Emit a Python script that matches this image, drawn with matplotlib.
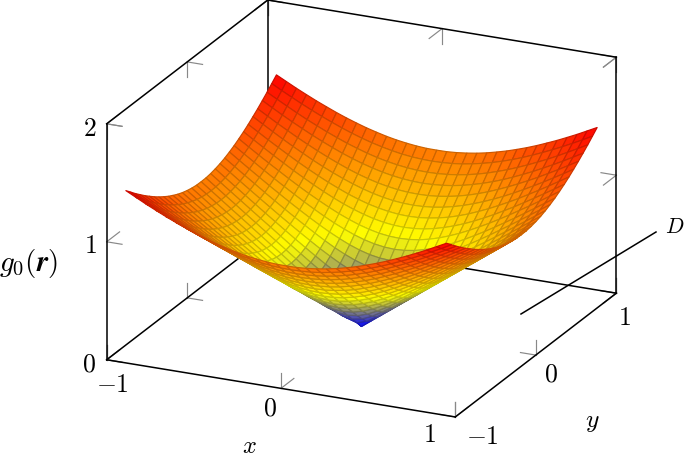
import numpy as np
import matplotlib
matplotlib.use("Agg")
import matplotlib.pyplot as plt
from matplotlib.colors import LinearSegmentedColormap
from matplotlib.lines import Line2D

plt.rcParams["mathtext.fontset"] = "cm"

# ── Data ──────────────────────────────────────────────────────
x_ticks = [-1, 0, 1]
y_ticks = [-1, 0, 1]
z_ticks = [0, 1, 2]

# g0 on one quadrant of the sampled grid, upper triangle (row i, columns i..16)
g_rows = [
    [0.000, 0.063, 0.125, 0.188, 0.251, 0.314, 0.376, 0.439, 0.502, 0.564, 0.627, 0.690, 0.753, 0.815, 0.878, 0.941, 1.004],
    [0.089, 0.140, 0.198, 0.259, 0.320, 0.382, 0.444, 0.506, 0.568, 0.630, 0.693, 0.755, 0.818, 0.880, 0.943, 1.005],
    [0.177, 0.226, 0.280, 0.338, 0.397, 0.457, 0.517, 0.578, 0.640, 0.701, 0.763, 0.825, 0.887, 0.949, 1.011],
    [0.266, 0.314, 0.366, 0.421, 0.478, 0.536, 0.595, 0.655, 0.715, 0.776, 0.837, 0.898, 0.959, 1.021],
    [0.355, 0.402, 0.452, 0.506, 0.561, 0.618, 0.675, 0.734, 0.793, 0.853, 0.913, 0.974, 1.034],
    [0.443, 0.490, 0.540, 0.592, 0.646, 0.701, 0.758, 0.815, 0.874, 0.932, 0.992, 1.051],
    [0.532, 0.578, 0.627, 0.678, 0.731, 0.786, 0.841, 0.898, 0.955, 1.013, 1.072],
    [0.621, 0.667, 0.715, 0.766, 0.818, 0.871, 0.926, 0.982, 1.038, 1.095],
    [0.710, 0.755, 0.803, 0.853, 0.905, 0.957, 1.011, 1.066, 1.122],
    [0.798, 0.844, 0.891, 0.941, 0.992, 1.044, 1.097, 1.151],
    [0.887, 0.932, 0.980, 1.029, 1.079, 1.131, 1.183],
    [0.976, 1.021, 1.068, 1.117, 1.167, 1.218],
    [1.064, 1.110, 1.156, 1.205, 1.254],
    [1.153, 1.198, 1.245, 1.293],
    [1.242, 1.287, 1.333],
    [1.330, 1.376],
    [1.419],
]

# ── Build the full grid from the quadrant ─────────────────────
n = len(g_rows)
quadrant = np.zeros((n, n))
for i, row in enumerate(g_rows):
    quadrant[i, i:] = row
    quadrant[i:, i] = row
Z = np.vstack([quadrant[:0:-1], quadrant])
Z = np.hstack([Z[:, :0:-1], Z])

X, Y = np.meshgrid(np.linspace(-0.92, 0.92, 2 * n - 1), np.linspace(-0.935, 0.935, 2 * n - 1))

# ── Colours per cell ──────────────────────────────────────────
cmap = LinearSegmentedColormap.from_list(
    "hot2", [(0, "#0000ff"), (0.36, "#ffff00"), (0.68, "#ff8000"), (1, "#ff0000")])
cell = (Z[:-1, :-1] + Z[1:, :-1] + Z[:-1, 1:] + Z[1:, 1:]) / 4
face = cmap(cell / Z.max())
edge = face.copy()
edge[..., :3] *= 0.8

# ── Figure ────────────────────────────────────────────────────
W, H = 685, 459
fig = plt.figure(figsize=(W / 100, H / 100), dpi=100)
ax = fig.add_axes([-49.3 / W, -160.3 / H, 800 / W, 800 / H], projection="3d", proj_type="ortho")
ax.computed_zorder = False
ax.set_axis_off()
ax.view_init(elev=20.8, azim=-65.2)
ax.set_xlim(-1, 1, view_margin=0)
ax.set_ylim(-1, 1, view_margin=0)
ax.set_zlim(0, 2, view_margin=0)
ax.set_box_aspect((384, 384, 252.4), zoom=0.7267)

# box edges
box_color = "black"
box_lw = 1.1
for a, b in [
    ((-1, -1, 0), (1, -1, 0)), ((1, -1, 0), (1, 1, 0)), ((-1, -1, 0), (-1, 1, 0)),
    ((-1, 1, 0), (1, 1, 0)), ((-1, -1, 0), (-1, -1, 2)), ((-1, 1, 0), (-1, 1, 2)),
    ((1, 1, 0), (1, 1, 2)), ((-1, -1, 2), (-1, 1, 2)), ((-1, 1, 2), (1, 1, 2)),
]:
    ax.plot(*zip(a, b), color=box_color, lw=box_lw, zorder=2, solid_capstyle="projecting")

# tick marks: two short strokes from the edge into the box
tick_color = "#888888"
dx, dy, dz = 0.088, 0.16, 0.127


def tick(p, d1, d2):
    for d in (d1, d2):
        q = np.array(p) + np.array(d)
        ax.plot(*zip(p, q), color=tick_color, lw=0.85, zorder=1)


for t in x_ticks:
    tick((t, -1, 0), (0, dy, 0), (0, 0, dz))
    tick((t, 1, 0), (0, -dy, 0), (0, 0, dz))
    tick((t, 1, 2), (0, -dy, 0), (0, 0, -dz))
for t in y_ticks:
    tick((1, t, 0), (-dx, 0, 0), (0, 0, dz))
    tick((-1, t, 0), (dx, 0, 0), (0, 0, dz))
    tick((-1, t, 2), (dx, 0, 0), (0, 0, -dz))
for t in z_ticks:
    tick((-1, -1, t), (dx, 0, 0), (0, dy, 0))
    tick((-1, 1, t), (dx, 0, 0), (0, -dy, 0))
    tick((1, 1, t), (-dx, 0, 0), (0, -dy, 0))

surf = ax.plot_surface(X, Y, Z, rstride=1, cstride=1, facecolors=face, shade=False,
                       linewidth=0.85, antialiased=True, zorder=3)
surf.set_edgecolor(edge.reshape(-1, 4))

# marker line for D
fig.add_artist(Line2D([521 / W, 656 / W], [1 - 314 / H, 1 - 232 / H], color="black", lw=1.1))


# ── Labels (pixel positions) ──────────────────────────────────
def label(px, py, s, size=18.5):
    fig.text(px / W, 1 - py / H, s, ha="center", va="center", fontsize=size)


label(90, 129, "$2$")
label(90, 246, "$1$")
label(89, 364, "$0$")
label(112, 385, "$-1$")
label(270, 408, "$0$")
label(429, 435, "$1$")
label(482, 437, "$-1$")
label(551, 375, "$0$")
label(624, 318, "$1$")
label(249, 446, "$x$", size=17.5)
label(592, 421, "$y$")
label(29, 263, r"$g_0(\mathbfit{r})$", size=21)
label(675, 227, "$D$", size=15.5)

fig.savefig("out.png", dpi=100)
